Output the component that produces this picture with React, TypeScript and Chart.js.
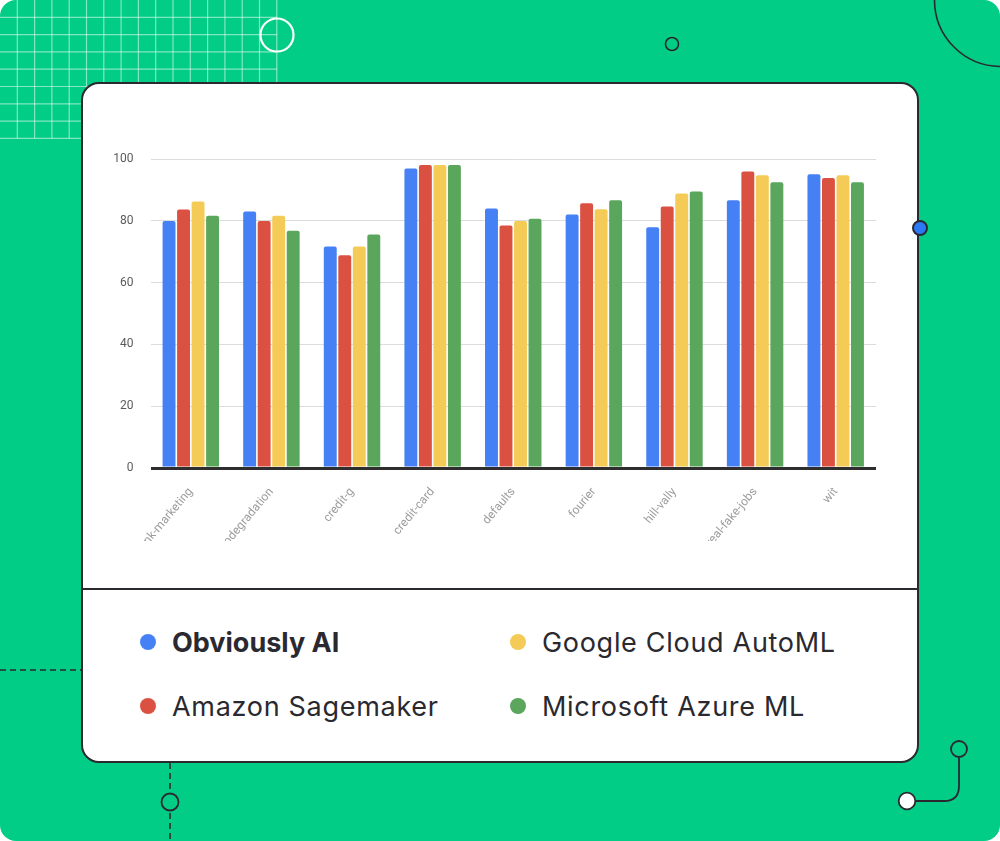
import React, { useEffect, useRef } from "react";
import Chart from "chart.js/auto";

const categories = [
  "bank-marketing",
  "biodegradation",
  "credit-g",
  "credit-card",
  "defaults",
  "fourier",
  "hill-vally",
  "real-fake-jobs",
  "wit",
];
const seriesNames = ["Obviously AI", "Amazon Sagemaker", "Google Cloud AutoML", "Microsoft Azure ML"];
const obviouslyAI = [80.0, 83.1, 71.7, 97.0, 84.0, 82.1, 78.0, 86.7, 95.1];
const amazonSagemaker = [83.7, 80.0, 68.9, 98.1, 78.5, 85.7, 84.7, 96.0, 93.9];
const googleAutoML = [86.3, 81.7, 71.7, 98.1, 80.0, 83.8, 88.9, 94.8, 94.8];
const azureML = [81.7, 76.8, 75.6, 98.1, 80.7, 86.7, 89.5, 92.5, 92.5];
const yTicks = [0, 20, 40, 60, 80, 100];
const colors = ["#4680f5", "#db5141", "#f5cb57", "#5aa65d"];

const GREEN = "#02cd87";
const INK = "#2b2930";

const BarChart = () => {
  const chartRef = useRef<HTMLCanvasElement>(null);
  const chartInstance = useRef<Chart | null>(null);

  useEffect(() => {
    if (!chartRef.current) return;
    const ctx = chartRef.current.getContext("2d");
    if (!ctx) return;
    const values = [obviouslyAI, amazonSagemaker, googleAutoML, azureML];

    if (chartInstance.current) chartInstance.current.destroy();
    chartInstance.current = new Chart(ctx, {
      type: "bar",
      data: {
        labels: categories,
        datasets: seriesNames.map((name, i) => ({
          label: name,
          data: values[i],
          backgroundColor: colors[i],
          borderWidth: 0,
          borderRadius: { topLeft: 2, topRight: 2 },
          borderSkipped: false,
          barPercentage: 0.89,
          categoryPercentage: 0.72,
        })),
      },
      options: {
        animation: false,
        responsive: true,
        maintainAspectRatio: false,
        layout: { padding: { top: 10, right: 4, left: 0, bottom: 0 } },
        plugins: { legend: { display: false }, tooltip: { enabled: false } },
        scales: {
          x: {
            grid: { display: false },
            border: { display: false },
            ticks: {
              autoSkip: false,
              minRotation: 50,
              maxRotation: 50,
              padding: 9,
              color: "#9c9c9c",
              font: { family: "Roboto", size: 12 },
            },
            afterFit: (scale: any) => {
              scale.height = 73;
            },
          },
          y: {
            min: 0,
            max: 100,
            afterBuildTicks: (scale: any) => {
              scale.ticks = yTicks.map((v) => ({ value: v }));
            },
            grid: {
              drawTicks: false,
              color: (c: any) => (c.tick && c.tick.value === 0 ? "#2e2e2e" : "#dcdcdc"),
              lineWidth: (c: any) => (c.tick && c.tick.value === 0 ? 3 : 1),
            },
            border: { display: false },
            ticks: {
              padding: 17,
              color: "#5a5a5a",
              font: { family: "Roboto", size: 12 },
            },
            afterFit: (scale: any) => {
              scale.width = 50.5;
            },
          },
        },
      },
    });

    return () => {
      if (chartInstance.current) {
        chartInstance.current.destroy();
        chartInstance.current = null;
      }
    };
  }, []);

  return <canvas ref={chartRef} />;
};

const Backdrop = () => {
  const grid = [];
  for (let i = 1; i <= 16; i++) {
    const x = i * 17.3;
    grid.push(<line key={"v" + i} x1={x} y1={0} x2={x} y2={138.5} />);
  }
  for (let j = 1; j <= 8; j++) {
    const y = j * 17.3;
    grid.push(<line key={"h" + j} x1={0} y1={y} x2={277} y2={y} />);
  }
  return (
    <svg width={1000} height={841} style={{ position: "absolute", left: 0, top: 0 }}>
      <rect x={0} y={0} width={1000} height={841} rx={16} fill={GREEN} />
      <g stroke="rgba(255,255,255,0.5)" strokeWidth={1.2}>{grid}</g>
      <circle cx={277} cy={35} r={16.5} fill="none" stroke="#fff" strokeWidth={2.2} />
      <circle cx={672} cy={44} r={6.5} fill="none" stroke={INK} strokeWidth={1.6} />
      <circle cx={1001} cy={0} r={66.5} fill="none" stroke={INK} strokeWidth={1.6} />
      <line x1={0} y1={670} x2={82} y2={670} stroke={INK} strokeWidth={1.6} strokeDasharray="6 4" />
      <line x1={170} y1={763} x2={170} y2={841} stroke={INK} strokeWidth={1.6} strokeDasharray="6 4" />
      <circle cx={170} cy={802} r={8.5} fill={GREEN} stroke={INK} strokeWidth={1.8} />
      <path d="M959 757 L959 786 Q959 801 944 801 L915 801" fill="none" stroke={INK} strokeWidth={1.8} />
      <circle cx={959} cy={749} r={8} fill={GREEN} stroke={INK} strokeWidth={1.8} />
      <circle cx={907} cy={801} r={8.3} fill="#fff" stroke={INK} strokeWidth={1.8} />
    </svg>
  );
};

const LegendItem = ({ index, x, y }: { index: number; x: number; y: number }) => (
  <div
    style={{
      position: "absolute",
      left: x,
      top: y - 20,
      height: 40,
      display: "flex",
      alignItems: "center",
      whiteSpace: "nowrap",
    }}
  >
    <span
      style={{
        display: "inline-block",
        width: 16,
        height: 16,
        borderRadius: 8,
        background: colors[index],
        marginRight: 16,
      }}
    />
    <span
      style={{
        fontFamily: "Inter, 'Noto Sans', sans-serif",
        fontSize: 27,
        fontWeight: index === 0 ? 700 : 400,
        color: INK,
        letterSpacing: index === 0 ? 0 : 0.7,
      }}
    >
      {seriesNames[index]}
    </span>
  </div>
);

const App = () => {
  return (
    <div
      style={{
        position: "fixed",
        left: 0,
        top: 0,
        width: 1000,
        height: 841,
        background: "#fff",
        overflow: "hidden",
      }}
    >
      <Backdrop />
      <div
        style={{
          position: "absolute",
          left: 81,
          top: 82,
          width: 838,
          height: 681,
          boxSizing: "border-box",
          border: `2px solid ${INK}`,
          borderRadius: 18,
          background: "#fff",
        }}
      />
      <div
        style={{
          position: "absolute",
          left: 82,
          top: 588,
          width: 836,
          height: 2,
          background: INK,
        }}
      />
      <div style={{ position: "absolute", left: 100, top: 135, width: 780, height: 406 }}>
        <BarChart />
      </div>
      <LegendItem index={0} x={140} y={642} />
      <LegendItem index={1} x={140} y={706} />
      <LegendItem index={2} x={510} y={642} />
      <LegendItem index={3} x={510} y={706} />
      <svg width={1000} height={841} style={{ position: "absolute", left: 0, top: 0, pointerEvents: "none" }}>
        <circle cx={920} cy={228} r={7} fill="#2a7af6" stroke={INK} strokeWidth={2} />
      </svg>
    </div>
  );
};

export default App;
